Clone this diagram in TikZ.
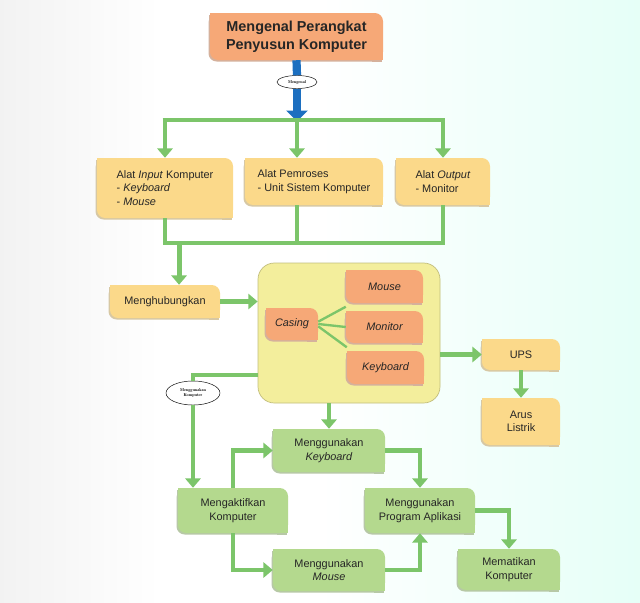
\documentclass[tikz,border=0pt]{standalone}
\usepackage{fontspec}
\setmainfont{Liberation Sans}
\usetikzlibrary{arrows.meta,shapes.geometric,fit,calc}
\definecolor{gl}{HTML}{7CC56A}
\definecolor{gbox}{HTML}{B4D98E}
\definecolor{ybox}{HTML}{FBD98A}
\definecolor{obox}{HTML}{F6A877}
\definecolor{bigy}{HTML}{F3EE9C}
\definecolor{blu}{HTML}{1C6FC0}
\tikzset{
  x=0.03cm,y=-0.03cm,
  gline/.style={draw=gl,line width=4.2pt},
  garrow/.style={gline,-{Triangle[width=13pt,length=8pt]}},
  thin/.style={draw=gl,line width=2pt},
  txt/.style={font=\fontsize{9.3}{11.5}\selectfont,text=black!85},
  oval/.style={ellipse,draw,fill=white,inner sep=0pt,font=\fontfamily{lmr}\fontsize{3.6}{4}\selectfont\bfseries}
}
\newcommand\leafshape[5]{%
  \fill[#1,rounded corners=7pt] (#2,#3) rectangle (#4,#5);
  \fill[#1] (#2,#3) rectangle ++(10,10);
  \fill[#1] (#4,#5) rectangle ++(-10,-10);
}
\newcommand\leafbox[8]{%
  \leafshape{#1!75!black!60}{#3-1.5}{#4+1.5}{#5-1.5}{#6+1.5}
  \leafshape{#1}{#3}{#4}{#5}{#6}
  \node[fit={(#3,#4)(#5,#6)},inner sep=0pt] (#2) {};
  \node[txt,#7] at (#2.center) {#8};
}
\begin{document}
\begin{tikzpicture}
\shade[left color=white!95!black,right color=white, middle color=white] (0,0) rectangle (320,602);
\shade[left color=white,right color=green!30!cyan!10] (320,0) rectangle (640,602);
\useasboundingbox (0,0) rectangle (640,602);

% title
\leafbox{obox}{t}{210}{13}{383}{60}{font=\fontsize{12.3}{15.5}\selectfont\bfseries,align=center}{Mengenal Perangkat\\Penyusun Komputer}
\leafbox{ybox}{b1}{97}{158}{233}{218}{align=left}{Alat \emph{Input} Komputer\\- \emph{Keyboard}\\- \emph{Mouse}}
\leafbox{ybox}{b2}{245}{158}{383}{205}{align=left}{Alat Pemroses\\- Unit Sistem Komputer}
\leafbox{ybox}{b3}{396}{158}{490}{205}{align=left}{Alat \emph{Output}\\- Monitor}
\leafbox{ybox}{mh}{110}{285}{220}{318}{}{Menghubungkan}

% big box
\node[fit={(258,263)(440,403)},inner sep=0pt,fill=bigy,draw=bigy!80!black,rounded corners=14pt,line width=0.6pt] (big) {};
\leafbox{obox}{cs}{266}{308}{318}{340}{font=\fontsize{9.3}{11}\selectfont\itshape}{Casing}
\leafbox{obox}{mo}{346}{270}{423}{303}{font=\fontsize{9.3}{11}\selectfont\itshape}{Mouse}
\leafbox{obox}{mn}{346}{311}{423}{343}{font=\fontsize{9.3}{11}\selectfont\itshape}{Monitor}
\leafbox{obox}{kbd}{347}{351}{424}{384}{font=\fontsize{9.3}{11}\selectfont\itshape}{Keyboard}
\draw[thin] ([yshift=2pt]cs.east) -- ([yshift=-3pt]mo.south west);
\draw[thin] (cs.east) -- (mn.west);
\draw[thin] ([yshift=-2pt]cs.east) -- ([yshift=3pt]kbd.north west);

\leafbox{ybox}{ups}{482}{339}{560}{370}{}{UPS}
\leafbox{ybox}{al}{482}{398}{560}{445}{align=center}{Arus\\Listrik}

\leafbox{gbox}{kb}{273}{429}{385}{472}{align=center}{Menggunakan\\\emph{Keyboard}}
\leafbox{gbox}{mk}{178}{488}{288}{533}{align=center}{Mengaktifkan\\Komputer}
\leafbox{gbox}{ms}{273}{549}{385}{591}{align=center}{Menggunakan\\\emph{Mouse}}
\leafbox{gbox}{pa}{365}{488}{475}{533}{align=center}{Menggunakan\\Program Aplikasi}
\leafbox{gbox}{mt}{458}{549}{560}{590}{align=center}{Mematikan\\Komputer}

% top connectors
\node[oval,minimum width=40*0.03cm,minimum height=13*0.03cm] (em) at (297,82) {Mengenal};
\draw[blu,line width=7pt] (t.south) -- (em.north);
\coordinate (bar) at (297,120);
\draw[blu,line width=7pt,-{Triangle[width=18pt,length=9pt]}] (em.south) -- ([yshift=-1pt]em.south|-bar);
\draw[gline] ([xshift=-2pt]b1.north|-bar) -- ([xshift=2pt]b3.north|-bar);
\draw[garrow] (b1.north|-bar) -- (b1.north);
\draw[garrow] (bar) -- (bar|-b2.north);
\draw[garrow] (b3.north|-bar) -- (b3.north);

\coordinate (bot) at (297,243);
\draw[gline] (b1.south) |- (b3.south|-bot) -- (b3.south);
\draw[gline] (bot|-b2.south) -- (bot);
\draw[garrow] ([xshift=12]mh.north|-bot) -- ([xshift=12]mh.north);

\draw[garrow] (mh.east) -- (big.west|-mh.east);
\draw[garrow] (big.east|-ups.west) -- (ups.west);
\draw[garrow] (ups.south) -- (al.north);
\draw[garrow] (big.south-|kb.north) -- (kb.north);

\coordinate (bl) at (258,375);
\node[oval,minimum width=54*0.03cm,minimum height=24*0.03cm,align=center] (ek) at (193,393) {Menggunakan\\Komputer};
\draw[gline] (bl) -| (ek.north);
\draw[garrow] (ek.south) -- (ek.south|-mk.north);

\draw[garrow] (mk.north) |- (kb.west);
\draw[garrow] (mk.south) |- (ms.west);
\draw[garrow] (kb.east) -| (pa.north);
\draw[garrow] (ms.east) -| (pa.south);
\draw[garrow] (pa.east) -| (mt.north);
\end{tikzpicture}
\end{document}
